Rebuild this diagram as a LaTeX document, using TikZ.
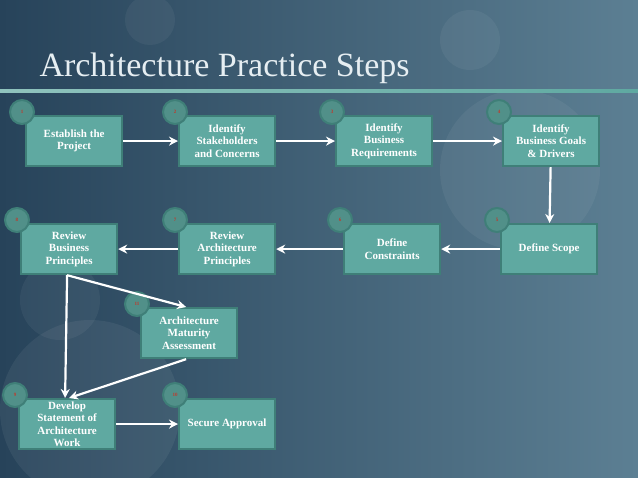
\documentclass[tikz,border=0pt]{standalone}
\usepackage{fontspec}
\setmainfont{Liberation Serif}
\usetikzlibrary{arrows.meta}
\definecolor{bgA}{HTML}{27435A}
\definecolor{bgB}{HTML}{5C7F93}
\definecolor{boxf}{HTML}{5FA9A1}
\definecolor{boxd}{HTML}{3F7F78}
\definecolor{titlec}{HTML}{E6EEF2}
\definecolor{numc}{HTML}{C0392B}
\begin{document}
\begin{tikzpicture}[x=1pt,y=-1pt,
  stepbox/.style={draw=boxd,line width=2.2pt,fill=boxf,minimum width=96pt,minimum height=50pt,inner sep=1pt,align=center,text=white,font=\bfseries\fontsize{11}{12.5}\selectfont,anchor=north west},
  numc/.style={circle,draw=boxd,line width=2pt,fill=boxf!85!black,minimum size=24pt,inner sep=0pt,text=numc,font=\bfseries\fontsize{5}{5}\selectfont},
  arr/.style={draw=white,line width=2.2pt,-{Stealth[length=9pt,width=9pt]}}]
\useasboundingbox (0,0) rectangle (638,478);
\shade[left color=bgA,right color=bgB] (0,0) rectangle (638,478);
\fill[white,opacity=0.06] (90,410) circle (90);
\fill[white,opacity=0.05] (520,170) circle (80);
\fill[white,opacity=0.05] (60,300) circle (40);
\fill[white,opacity=0.05] (470,40) circle (30);
\fill[white,opacity=0.05] (150,20) circle (25);
\node[anchor=west,text=titlec,font=\fontsize{34}{34}\selectfont] (title) at (36,68) {Architecture Practice Steps};
\fill[left color=boxf!70!white,right color=boxf] (0,90) rectangle (638,93);
\node[stepbox] (b1) at (25,115) {Establish the\\Project};
\node[stepbox] (b2) at (178,115) {Identify\\Stakeholders\\and Concerns};
\node[stepbox] (b3) at (335,115) {Identify\\Business\\Requirements};
\node[stepbox] (b4) at (502,115) {Identify\\Business Goals\\\& Drivers};
\node[stepbox] (b8) at (20,223) {Review\\Business\\Principles};
\node[stepbox] (b7) at (178,223) {Review\\Architecture\\Principles};
\node[stepbox] (b6) at (343,223) {Define\\Constraints};
\node[stepbox] (b5) at (500,223) {Define Scope};
\node[stepbox] (b11) at (140,307) {Architecture\\Maturity\\Assessment};
\node[stepbox] (b9) at (18,398) {Develop\\Statement of\\Architecture\\Work};
\node[stepbox] (b10) at (178,398) {Secure Approval};
\foreach \b/\n in {b1/1,b2/2,b3/3,b4/4,b5/5,b6/6,b7/7,b8/8,b9/9,b10/10,b11/11}
  \node[numc] (c\n) at ([shift={(-3,-3)}]\b.north west) {\n};
\draw[arr] (b1) -- (b2);
\draw[arr] (b2) -- (b3);
\draw[arr] (b3) -- (b4);
\draw[arr] (b4) -- (b5);
\draw[arr] (b5) -- (b6);
\draw[arr] (b6) -- (b7);
\draw[arr] (b7) -- (b8);
\draw[arr] ([xshift=-2pt]b8.south) -- ([xshift=-2pt]b9.north);
\draw[arr] ([xshift=-2pt]b8.south) -- ([xshift=-3pt]b11.north);
\draw[arr] ([xshift=-3pt]b11.south) -- ([xshift=2pt]b9.north);
\draw[arr] (b9) -- (b10);
\end{tikzpicture}
\end{document}
